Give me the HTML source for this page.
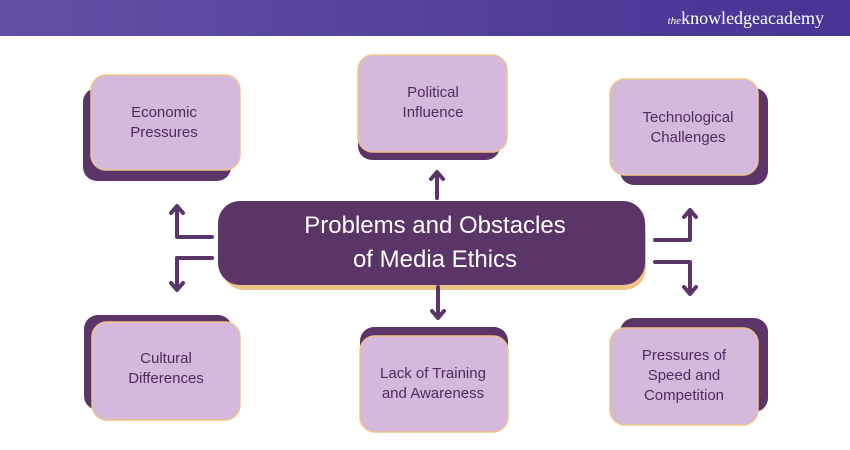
<!DOCTYPE html>
<html><head><meta charset="utf-8"><style>
html,body{margin:0;padding:0;width:850px;height:450px;overflow:hidden;background:#fff}
svg{display:block}
</style></head><body>
<svg width="850" height="450" viewBox="0 0 850 450" style="font-family:'Liberation Sans',sans-serif">
<defs><linearGradient id="hg" x1="0" x2="1"><stop offset="0" stop-color="#6450a6"/><stop offset="1" stop-color="#463393"/></linearGradient></defs>
<rect x="0" y="0" width="850" height="36" fill="url(#hg)"/>
<text x="824" y="24" text-anchor="end" style="font-family:'Liberation Serif',serif" font-size="18" fill="#fff"><tspan font-style="italic" font-size="11">the</tspan>knowledgeacademy</text>

<g fill="#5b3468">
<rect x="83" y="88" width="148" height="93" rx="14"/>
<rect x="358" y="62" width="142" height="98" rx="14"/>
<rect x="620" y="88" width="148" height="97" rx="14"/>
<rect x="84" y="315" width="148" height="95" rx="14"/>
<rect x="360" y="327" width="148" height="95" rx="14"/>
<rect x="620" y="318" width="148" height="94" rx="14"/>
</g>
<g fill="#d4b9dd" stroke="#efc489" stroke-width="1.5">
<rect x="91" y="75" width="149" height="95" rx="15"/>
<rect x="358" y="55" width="149" height="97" rx="15"/>
<rect x="610" y="79" width="148" height="96" rx="15"/>
<rect x="92" y="322" width="148" height="98" rx="15"/>
<rect x="360" y="336" width="148" height="96" rx="15"/>
<rect x="610" y="328" width="148" height="97" rx="15"/>
</g>
<rect x="222" y="206" width="424" height="84" rx="22" fill="#efc489"/>
<rect x="218" y="201" width="427" height="84" rx="22" fill="#5b3468"/>

<g fill="none" stroke="#5b3468" stroke-width="4" stroke-linecap="round" stroke-linejoin="round">
<path d="M437 198V172M431 179L437 172L443 179"/>
<path d="M438 287V318M432 311L438 318L444 311"/>
<path d="M212 237H177V206M171 213L177 206L183 213"/>
<path d="M212 258H177V290M171 283L177 290L183 283"/>
<path d="M655 240H690V210M684 217L690 210L696 217"/>
<path d="M655 262H690V294M684 287L690 294L696 287"/>
</g>

<g fill="#4e2a5e" font-size="15" text-anchor="middle">
<text x="164" y="117">Economic</text><text x="164" y="137">Pressures</text>
<text x="433" y="97">Political</text><text x="433" y="117">Influence</text>
<text x="688" y="122">Technological</text><text x="688" y="142">Challenges</text>
<text x="166" y="363">Cultural</text><text x="166" y="383">Differences</text>
<text x="433" y="378">Lack of Training</text><text x="433" y="398">and Awareness</text>
<text x="684" y="360">Pressures of</text><text x="684" y="380">Speed and</text><text x="684" y="400">Competition</text>
</g>
<g fill="#fff" font-size="24" text-anchor="middle">
<text x="435" y="233">Problems and Obstacles</text>
<text x="435" y="267">of Media Ethics</text>
</g>
</svg>
</body></html>
